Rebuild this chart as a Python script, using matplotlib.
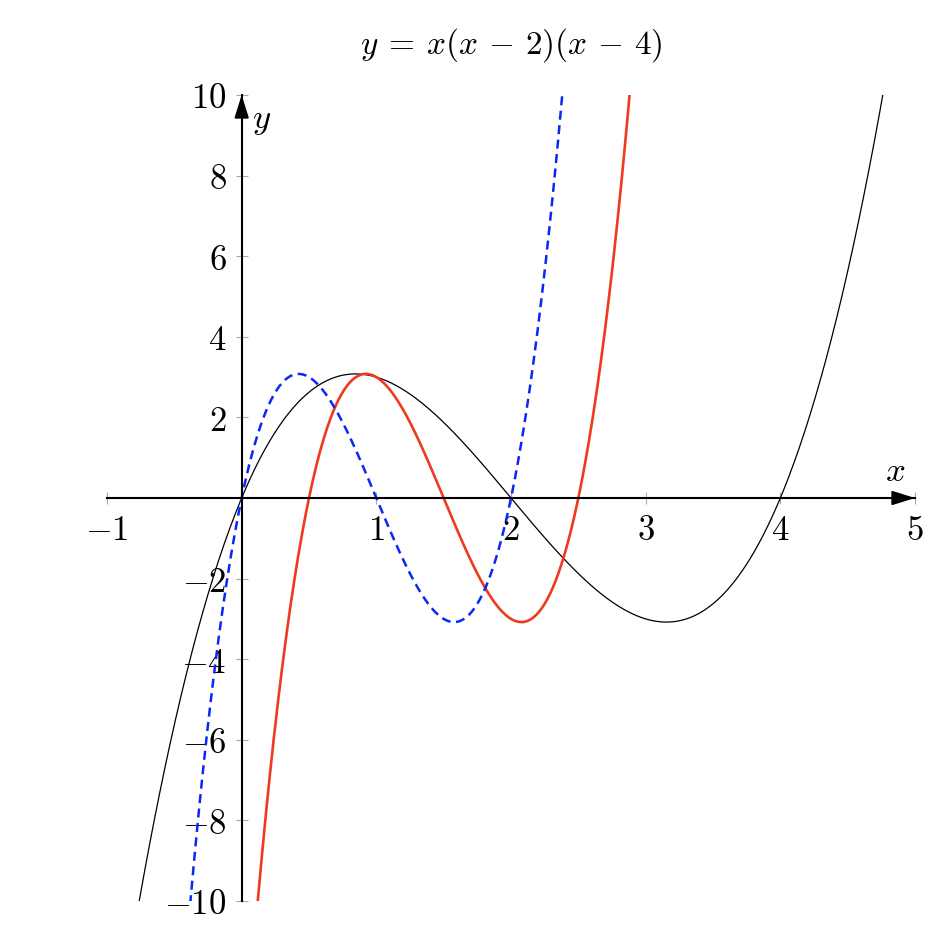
import numpy as np
import matplotlib
matplotlib.use("Agg")
import matplotlib.pyplot as plt

plt.rcParams['mathtext.fontset'] = 'cm'
plt.rcParams['font.family'] = ['DejaVu Serif']

# roots of the plotted cubics: f(x) = x(x-2)(x-4), f(2x), f(2x-1)
roots_black = [0, 2, 4]
roots_blue = [0, 1, 2]
roots_red = [0.5, 1.5, 2.5]
scale_black = 1
scale_blue = 8
scale_red = 8

x_ticks = [-1, 1, 2, 3, 4, 5]
y_ticks = [-10, -8, -6, -4, -2, 2, 4, 6, 8, 10]

xs = np.linspace(-1, 5, 601)


def cubic(x, roots, k):
    return k * (x - roots[0]) * (x - roots[1]) * (x - roots[2])


fig = plt.figure(figsize=(9.46, 9.32), dpi=100)
ax = fig.add_axes([107 / 946, 31 / 932, 808 / 946, 806 / 932])
ax.set_xlim(-1, 5)
ax.set_ylim(-10, 10)

ax.plot(xs, cubic(xs, roots_black, scale_black), color='black', lw=0.9)
ax.plot(xs, cubic(xs, roots_red, scale_red), color='#ee3a1f', lw=1.9)
ax.plot(xs, cubic(xs, roots_blue, scale_blue), color='#0a28f5', lw=1.8,
        dashes=(3.6, 2.2))

for s in ['top', 'right']:
    ax.spines[s].set_visible(False)
ax.spines['left'].set_position(('data', 0))
ax.spines['bottom'].set_position(('data', 0))
ax.spines['left'].set_linewidth(1.5)
ax.spines['bottom'].set_linewidth(1.5)

# arrow heads
arrow_style = '-|>,head_length=0.7,head_width=0.22'
ax.annotate('', xy=(5, 0), xytext=(4.9, 0),
            arrowprops=dict(arrowstyle=arrow_style, color='black', lw=1.4,
                            mutation_scale=20, shrinkA=0, shrinkB=0))
ax.annotate('', xy=(0, 10), xytext=(0, 9.7),
            arrowprops=dict(arrowstyle=arrow_style, color='black', lw=1.4,
                            mutation_scale=20, shrinkA=0, shrinkB=0))

ax.set_xticks(x_ticks)
ax.set_yticks(y_ticks)
ax.set_xticklabels([f'${t}$' for t in x_ticks])
ax.set_yticklabels([f'${t}$' for t in y_ticks])
ax.tick_params(direction='inout', length=8, width=0.8, color='#aaaaaa',
               labelsize=25, pad=7)
for lbl in ax.get_xticklabels():
    lbl.set_verticalalignment('top')

ax.text(4.93, 0.25, '$x$', fontsize=25, ha='right', va='bottom')
ax.text(0.08, 9.8, '$y$', fontsize=25, ha='left', va='top')

fig.text(0.54, 0.952, r'$y\:=\:x(x\,-\,2)(x\,-\,4)$', fontsize=24,
         ha='center', va='center')

fig.savefig('out.png', dpi=100)
